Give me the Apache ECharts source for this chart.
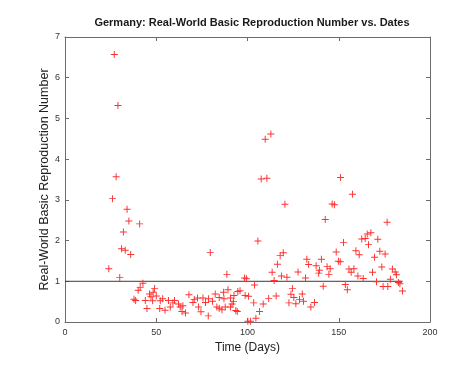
<!DOCTYPE html>
<html>
<head>
<meta charset="utf-8">
<script src="https://cdn.jsdelivr.net/npm/echarts@6/dist/echarts.min.js"></script>
<style>html,body{margin:0;padding:0;background:#fff}#c{width:474px;height:372px}</style>
</head>
<body>
<div id="c"></div>
<script>
// Day values (x) and reproduction number values (y)
const days = [
  24, 26, 27, 28, 29, 30, 31, 32, 33, 34, 35, 36,
  37.8, 38.7, 40.1, 40.9, 41.2, 42.7, 44.0, 44.9, 46.3, 47.1, 48.0, 48.3, 49.1, 50.0,
  51.9, 52.2, 53.5, 54.8, 56.7, 57.7, 59.1, 60.0, 62.2, 63.1, 64.1, 64.6, 66.0, 67.9,
  70.1, 70.8, 72.6, 73.2, 74.5, 75.6, 77.0, 78.5, 78.6, 79.6,
  80.8, 82.3, 83.2, 84.5, 84.5, 86.0, 86.9, 87.1, 87.8, 88.7, 89.3, 90.7, 90.7, 91.5,
  92.3, 92.6, 93.6, 94.4, 94.7, 95.9, 98.4, 98.7, 99.4, 100.2, 100.6, 101.6,
  103.4, 103.8, 104.6, 105.7, 106.6, 107.5, 108.6, 109.7, 110.6, 111.6, 112.8,
  113.5, 114.6, 115.7, 116.4, 117.9, 118.6, 119.6, 120.5, 121.6, 122.7, 123.8, 124.6,
  125.4, 126.5, 127.7, 128.5, 130.0, 130.7, 131.8, 132.5, 133.5, 134.7, 136.7, 137.6,
  139.0, 139.4, 140.5, 141.5, 142.6, 143.6, 144.6, 145.3, 146.4, 147.6, 148.6, 149.8,
  150.8, 151.0, 152.6, 153.6, 154.7, 155.6, 156.8, 157.5, 158.3, 159.4, 160.5, 161.2,
  162.6, 163.4, 164.5, 165.6, 166.3, 167.6, 168.5, 169.6, 170.7, 171.4, 172.5, 173.6,
  174.3, 175.4, 176.5, 176.9, 178.3, 179.4, 180.9, 181.6, 182.7, 183.5, 184.9
];
const reproNumber = [
  1.31, 3.03, 6.57, 3.57, 5.32, 1.09, 1.80, 2.21, 1.76, 2.77, 2.48, 1.66,
  0.56, 0.53, 0.78, 2.41, 0.85, 0.95, 0.53, 0.33, 0.69, 0.62, 0.52, 0.73, 0.82, 0.64,
  0.33, 0.52, 0.57, 0.29, 0.53, 0.37, 0.47, 0.53, 0.44, 0.37, 0.26, 0.40, 0.22, 0.67,
  0.48, 0.55, 0.59, 0.37, 0.25, 0.59, 0.48, 0.15, 0.57, 1.71,
  0.51, 0.69, 0.37, 0.60, 0.34, 0.30, 0.73, 0.57, 0.37, 1.17, 0.79, 0.59, 0.37, 0.44,
  0.50, 0.65, 0.28, 0.26, 0.75, 0.77, 1.08, 0.65, 1.06, 0.02, 0.63, 0.02,
  0.47, 0.91, 0.09, 1.99, 0.26, 3.51, 0.44, 4.49, 3.53, 0.58, 4.62,
  1.22, 1.02, 0.64, 1.42, 1.63, 1.13, 1.70, 2.89, 1.10, 0.47, 0.68, 0.82,
  0.60, 0.45, 1.23, 0.55, 0.69, 0.51, 1.08, 1.54, 1.41, 0.37, 0.48, 1.38,
  1.20, 1.27, 1.54, 0.88, 2.52, 1.36, 1.17, 1.31, 2.90, 2.88, 1.72, 1.49,
  1.48, 3.55, 1.95, 0.92, 0.79, 1.30, 1.22, 3.14, 1.31, 1.75, 1.13, 1.65,
  2.04, 1.07, 2.05, 2.16, 1.90, 2.19, 1.22, 1.59, 0.99, 2.03, 1.74, 1.35,
  0.87, 1.67, 2.45, 0.87, 1.05, 1.30, 1.23, 1.16, 0.97, 0.94, 0.76
];
const thresholdDays = [0, 185];
const thresholdValue = [1, 1];
const xTicks = [0, 50, 100, 150, 200];
const yTicks = [0, 1, 2, 3, 4, 5, 6, 7];

const points = days.map((d, i) => [d, reproNumber[i]]);
const refLine = thresholdDays.map((d, i) => [d, thresholdValue[i]]);
const plusPath = 'path://M0,3.45 H3.45 V0 H4.55 V3.45 H8 V4.55 H4.55 V8 H3.45 V4.55 H0 Z';
const font = 'Liberation Sans, Arial, sans-serif';
const axisCol = '#6b6b6b';

const chart = echarts.init(document.getElementById('c'), null, {renderer: 'canvas'});
const baseX = {
  type: 'value', min: xTicks[0], max: xTicks[xTicks.length - 1], interval: 50,
  splitLine: {show: false},
  axisLine: {show: true, onZero: false, lineStyle: {color: axisCol, width: 1}},
  axisTick: {show: true, inside: true, length: 4, lineStyle: {color: axisCol}}
};
const baseY = {
  type: 'value', min: yTicks[0], max: yTicks[yTicks.length - 1], interval: 1,
  splitLine: {show: false},
  axisLine: {show: true, onZero: false, lineStyle: {color: axisCol, width: 1}},
  axisTick: {show: true, inside: true, length: 4, lineStyle: {color: axisCol}}
};
chart.setOption({
  animation: false,
  backgroundColor: '#fff',
  title: {
    text: 'Germany: Real-World Basic Reproduction Number vs. Dates',
    left: 247, top: 12, textAlign: 'center',
    textStyle: {fontFamily: font, fontSize: 11, fontWeight: 'bold', color: '#1a1a1a'}
  },
  grid: {left: 65, right: 44, top: 37, bottom: 50},
  xAxis: [
    Object.assign({}, baseX, {
      position: 'bottom',
      name: 'Time (Days)', nameLocation: 'middle', nameGap: 19,
      nameTextStyle: {fontFamily: font, fontSize: 12, color: '#222'},
      axisLabel: {fontFamily: font, fontSize: 9, color: '#333', margin: 6}
    }),
    Object.assign({}, baseX, {position: 'top', axisLabel: {show: false}})
  ],
  yAxis: [
    Object.assign({}, baseY, {
      position: 'left',
      name: 'Real-World Basic Reproduction Number', nameLocation: 'middle', nameGap: 14,
      nameMoveOverlap: false,
      nameTextStyle: {fontFamily: font, fontSize: 12.5, color: '#222'},
      axisLabel: {fontFamily: font, fontSize: 9, color: '#333', margin: 5}
    }),
    Object.assign({}, baseY, {position: 'right', axisLabel: {show: false}})
  ],
  series: [
    {
      type: 'line', data: refLine, symbol: 'none', silent: true,
      lineStyle: {color: '#3a3a3a', width: 1}, z: 1
    },
    {
      type: 'scatter', data: points, symbol: plusPath, symbolSize: 7,
      itemStyle: {color: '#ff3030', opacity: 1}, z: 2
    }
  ]
});
</script>
</body>
</html>
